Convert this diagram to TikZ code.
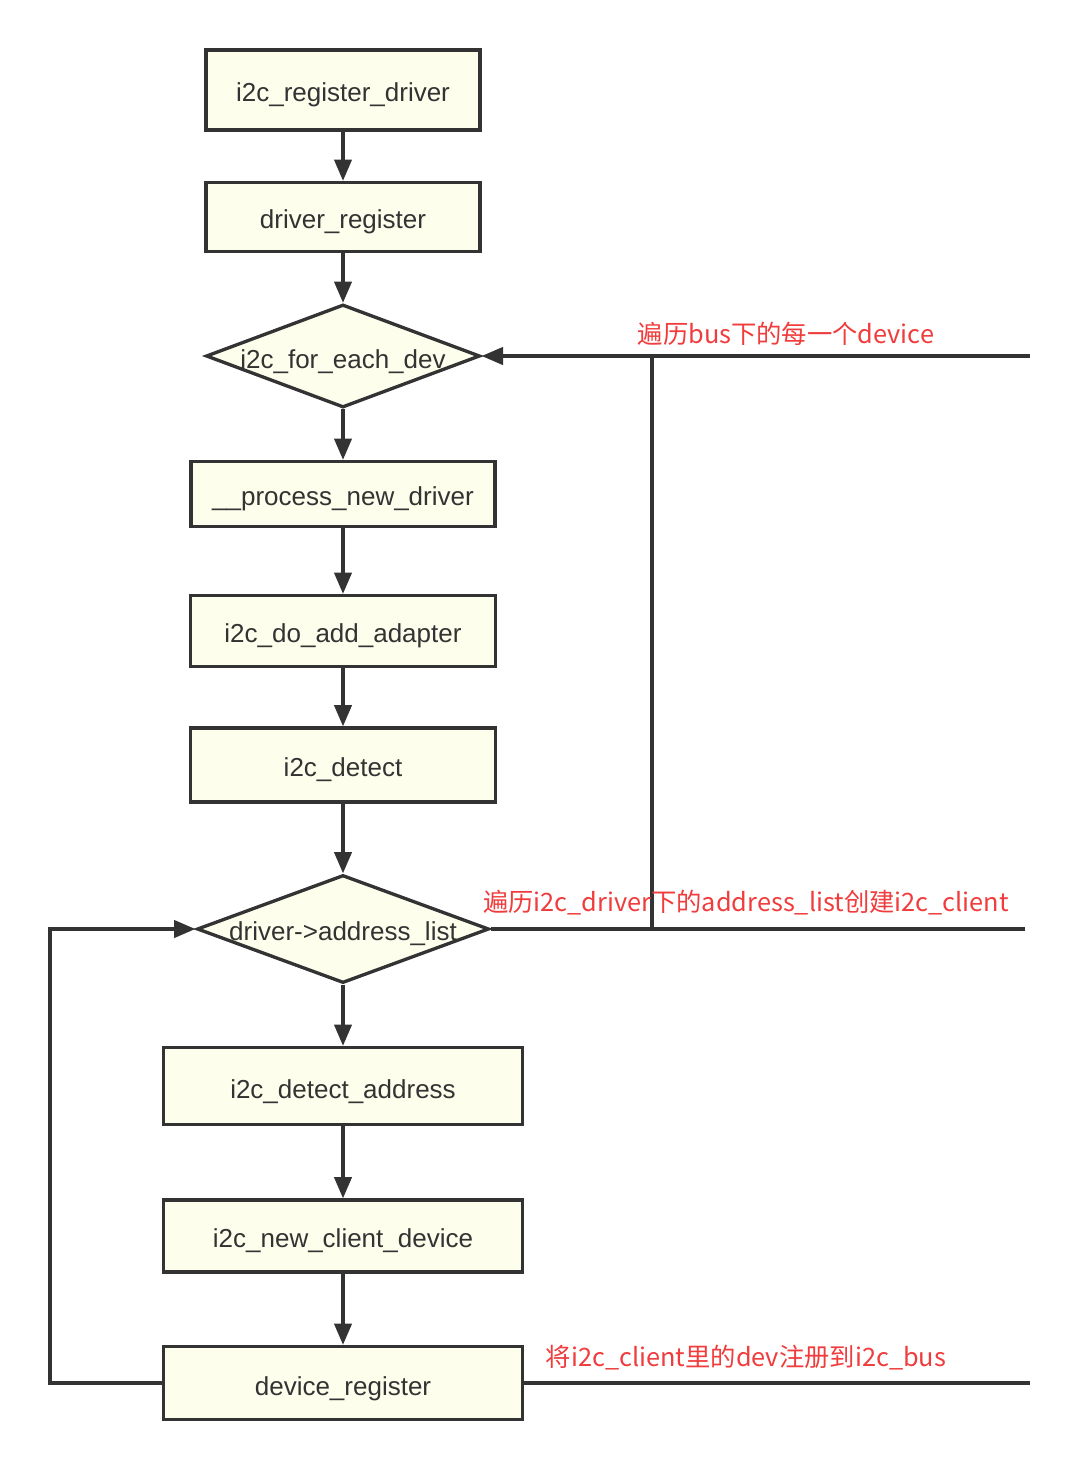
\documentclass[tikz,border=0pt]{standalone}
\usepackage{fontspec}
\setmainfont{Liberation Sans}
\newfontfamily\cjk{Noto Sans CJK SC}
\usetikzlibrary{shapes.geometric,arrows.meta}
\definecolor{fillc}{HTML}{FDFEEC}
\definecolor{linec}{HTML}{333333}
\definecolor{redc}{HTML}{F03C3C}
\begin{document}
\begin{tikzpicture}[x=0.75pt,y=-0.75pt,
  box/.style={draw=linec,fill=fillc,line width=2.5pt,inner sep=0pt,text=linec},
  txt/.style={font=\fontsize{19.5}{22}\selectfont,text=linec},
  dia/.style={box,diamond,aspect=2.66},
  conn/.style={draw=linec,line width=2.5pt,-{Triangle[length=16pt,width=13pt]}},
  plain/.style={draw=linec,line width=2.5pt},
  lab/.style={text=redc,font=\cjk\fontsize{19}{22}\selectfont}]
\useasboundingbox (0,0) rectangle (1082,1471);
\node[box,minimum width=274*0.75pt,minimum height=80*0.75pt] (a) at (343,90) {};
\node[txt] at (343,95) {i2c\_register\_driver};
\node[box,minimum width=274*0.75pt,minimum height=69*0.75pt] (b) at (343,217) {};
\node[txt] at (343,222) {driver\_register};
\node[dia,minimum width=274*0.75pt,minimum height=103*0.75pt] (c) at (343,356) {};
\node[txt] at (343,362) {i2c\_for\_each\_dev};
\node[box,minimum width=304*0.75pt,minimum height=65*0.75pt] (d) at (343,494) {};
\node[txt] at (343,499) {\_\_process\_new\_driver};
\node[box,minimum width=305*0.75pt,minimum height=71*0.75pt] (e) at (343,631) {};
\node[txt] at (343,636) {i2c\_do\_add\_adapter};
\node[box,minimum width=305*0.75pt,minimum height=74*0.75pt] (f) at (343,765) {};
\node[txt] at (343,770) {i2c\_detect};
\node[dia,minimum width=292*0.75pt,minimum height=108*0.75pt] (g) at (343,929) {};
\node[txt] at (343,934) {driver->address\_list};
\node[box,minimum width=359*0.75pt,minimum height=77*0.75pt] (h) at (343,1086) {};
\node[txt] at (343,1092) {i2c\_detect\_address};
\node[box,minimum width=359*0.75pt,minimum height=72*0.75pt] (i) at (343,1236) {};
\node[txt] at (343,1241) {i2c\_new\_client\_device};
\node[box,minimum width=359*0.75pt,minimum height=73*0.75pt] (j) at (343,1383) {};
\node[txt] at (343,1389) {device\_register};
\draw[conn] (a) -- (b);
\draw[conn] (b) -- (c);
\draw[conn] (c) -- (d);
\draw[conn] (d) -- (e);
\draw[conn] (e) -- (f);
\draw[conn] (f) -- (g);
\draw[conn] (g) -- (h);
\draw[conn] (h) -- (i);
\draw[conn] (i) -- (j);
\coordinate (r1) at (1030,356);
\coordinate (r2) at (1025,929);
\coordinate (r3) at (1030,1383);
\coordinate (v) at (652,929);
\coordinate (vt) at (652,356);
\draw[conn] (j.west) -- (50,1383) -- (50,929) -- (g.west);
\draw[conn] (r1) -- (c.east);
\draw[plain] (g.east) -- (r2);
\draw[plain] (v) -- (vt);
\draw[plain] (j.east) -- (r3);
\node[lab] at (786,334) {遍历bus下的每一个device};
\node[lab] at (746,903) {遍历i2c\_driver下的address\_list创建i2c\_client};
\node[lab] at (746,1358) {将i2c\_client里的dev注册到i2c\_bus};
\end{tikzpicture}
\end{document}
